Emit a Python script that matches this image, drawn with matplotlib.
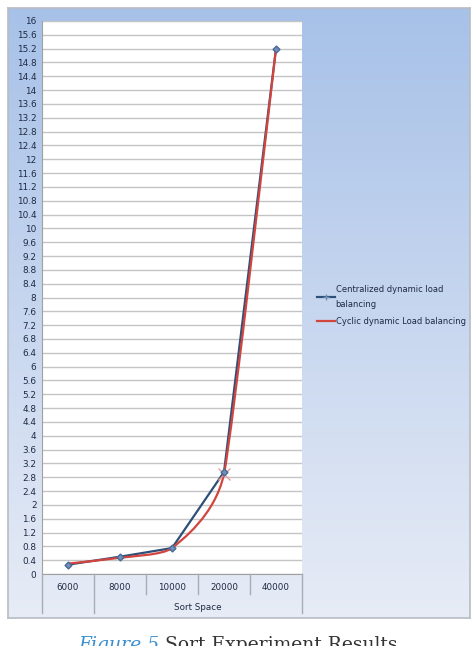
import matplotlib.pyplot as plt
import numpy as np
from matplotlib.path import Path
from matplotlib.patches import PathPatch
from matplotlib.lines import Line2D

# data
sort_space = ['6000', '8000', '10000', '20000', '40000']
centralized = [0.27, 0.50, 0.75, 2.95, 15.2]
cyclic = [0.30, 0.47, 0.75, 2.90, 15.2]

W, H = 474, 646
fig = plt.figure(figsize=(W / 100, H / 100), dpi=100)


def fx(px):
    return px / W


def fy(py):
    return 1 - py / H


# outer chart box with blue gradient
bx0, bx1, by0, by1 = fx(8), fx(470), fy(618), fy(8)
bg = fig.add_axes([bx0, by0, bx1 - bx0, by1 - by0])
top = np.array([0.655, 0.757, 0.910])
bot = np.array([0.905, 0.925, 0.965])
t = np.linspace(0, 1, 256)[:, None]
grad = (top * (1 - t) + bot * t)[:, None, :]
grad = np.repeat(grad, 2, axis=1)
bg.imshow(grad, aspect='auto', extent=[0, 1, 0, 1])
bg.set_xlim(0, 1)
bg.set_ylim(0, 1)
bg.set_xticks([])
bg.set_yticks([])
for s in bg.spines.values():
    s.set_color('#b8bcc4')
    s.set_linewidth(1.2)

# plot area
ax = fig.add_axes([fx(42), fy(574), 260 / W, (574 - 21) / H])
ax.set_facecolor('white')
ax.set_xlim(-0.5, 4.5)
ax.set_ylim(0, 16)
yt = np.round(np.arange(0, 16.01, 0.4), 1)
ax.set_yticks(yt)
ax.set_yticklabels([('%g' % v) for v in yt], fontsize=6.4, color='#1f2a44')
ax.tick_params(axis='y', length=0, pad=4)
ax.set_xticks([])
ax.grid(True, axis='y', color='#c4c4c4', linewidth=1.0)
ax.set_axisbelow(True)
for s in ['top', 'right']:
    ax.spines[s].set_visible(False)
ax.spines['left'].set_color('#a0a0a0')
ax.spines['bottom'].set_color('#a0a0a0')

x = np.arange(len(sort_space))

# centralized: straight segments
ax.plot(x, centralized, color='#2d4f78', linewidth=1.6, zorder=3)

# cyclic: smoothed line (cubic beziers through the data points)
k = 1 / 12
pts = np.column_stack([x, cyclic]).astype(float)
ext = np.vstack([pts[0], pts, pts[-1]])
verts = [tuple(pts[0])]
codes = [Path.MOVETO]
for i in range(len(pts) - 1):
    p0, p1, p2, p3 = ext[i], ext[i + 1], ext[i + 2], ext[i + 3]
    c1 = p1 + (p2 - p0) * k
    c2 = p2 - (p3 - p1) * k
    verts += [tuple(c1), tuple(c2), tuple(p2)]
    codes += [Path.CURVE4] * 3
ax.add_patch(PathPatch(Path(verts, codes), facecolor='none',
                       edgecolor='#d2453e', linewidth=1.6, zorder=4))
ax.plot(x[3], cyclic[3], marker='x', color='#e8a0a0', markersize=9,
        markeredgewidth=1.0, zorder=5)
ax.plot(x, centralized, linestyle='none', marker='D', markersize=3.5,
        color='#6f8fb8', markeredgecolor='#4a6a96', zorder=6)

# category table below the axis
for i, lab in enumerate(sort_space):
    fig.text(fx(68 + 52 * i), fy(587), lab, fontsize=6.3, color='#1f2a44',
             ha='center', va='center')
fig.text(fx(198), fy(607), 'Sort Space', fontsize=6.3, color='#1f2a44',
         ha='center', va='center')
for px, bottom_px in [(42, 613), (94, 613), (146, 594), (198, 594),
                      (250, 594), (302, 613)]:
    fig.add_artist(Line2D([fx(px), fx(px)], [fy(574), fy(bottom_px)],
                          color='#a8acb4', linewidth=1.0))

# legend
handles = [Line2D([], [], color='#2d4f78', linewidth=1.6, marker='+',
                  markersize=5, markeredgecolor='#6f8fb8'),
           Line2D([], [], color='#d2453e', linewidth=1.6)]
labels = ['Centralized dynamic load\nbalancing', 'Cyclic dynamic Load balancing']
leg = fig.legend(handles, labels, loc='upper left',
                 bbox_to_anchor=(fx(309), fy(277)), frameon=False, fontsize=6.0,
                 handlelength=2.2, handletextpad=0.1, labelspacing=1.0,
                 labelcolor='#1f2a44')
for txt in leg.get_texts():
    txt.set_linespacing(1.9)

# caption, clipped at the bottom edge as in the reference
fig.text(fx(78), fy(636), 'Figure 5', fontsize=13.5, color='#3a8fd0',
         fontstyle='italic', family='DejaVu Serif', va='top', ha='left')
fig.text(fx(165), fy(636), 'Sort Experiment Results', fontsize=13.5,
         color='#333333', family='DejaVu Serif', va='top', ha='left')

fig.savefig('out.png', dpi=100)
